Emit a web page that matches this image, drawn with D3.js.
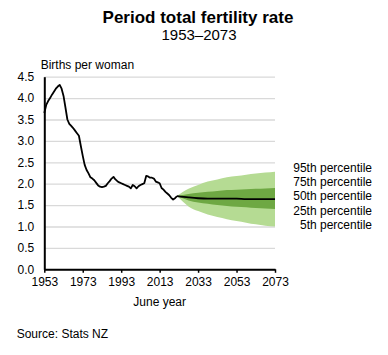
<!DOCTYPE html>
<html>
<head>
<meta charset="utf-8">
<script src="https://cdn.jsdelivr.net/npm/d3@7"></script>
<style>
  html, body { margin: 0; padding: 0; background: #fff; }
  svg { display: block; font-family: "Liberation Sans", Arial, Helvetica, sans-serif; }
</style>
</head>
<body>
<svg id="chart" width="388" height="355"></svg>
<script>
// ---- Data ----
const histYears = [1953,1954,1955,1956,1957,1958,1959,1960,1961,1962,1963,1964,1965,1966,1967,1968,1969,1970,1971,1972,1973,1974,1975,1976,1977,1978,1979,1980,1981,1982,1983,1984,1985,1986,1987,1988,1989,1990,1991,1992,1993,1994,1995,1996,1997,1998,1999,2000,2001,2002,2003,2004,2005,2006,2007,2008,2009,2010,2011,2012,2013,2014,2015,2016,2017,2018,2019,2020,2021,2022];
const histTFR = [3.65,3.84,3.93,4.00,4.08,4.15,4.22,4.27,4.31,4.22,4.05,3.78,3.50,3.40,3.35,3.30,3.24,3.18,3.12,2.88,2.65,2.44,2.32,2.24,2.15,2.12,2.08,2.02,1.96,1.93,1.92,1.93,1.95,2.01,2.06,2.12,2.16,2.10,2.06,2.03,2.01,1.99,1.97,1.95,1.93,1.89,1.97,1.94,1.89,1.94,1.97,1.99,2.01,2.18,2.17,2.14,2.14,2.12,2.05,2.03,2.01,1.90,1.86,1.81,1.77,1.73,1.67,1.63,1.66,1.71];

const projYears = [2022,2028,2033,2038,2043,2048,2053,2058,2063,2068,2073];
const p95 = [1.71,1.88,1.97,2.05,2.10,2.15,2.18,2.21,2.24,2.26,2.28];
const p75 = [1.71,1.76,1.79,1.81,1.83,1.85,1.86,1.87,1.88,1.89,1.90];
const p50 = [1.71,1.68,1.66,1.65,1.65,1.65,1.65,1.64,1.64,1.64,1.64];
const p25 = [1.71,1.61,1.56,1.53,1.50,1.48,1.46,1.45,1.43,1.42,1.41];
const p05 = [1.71,1.47,1.36,1.28,1.22,1.17,1.13,1.09,1.05,1.02,1.00];

const yTicks = [0,0.5,1,1.5,2,2.5,3,3.5,4,4.5];
const xTicks = [1953,1973,1993,2013,2033,2053,2073];
const legendLabels = ["95th percentile","75th percentile","50th percentile","25th percentile","5th percentile"];

const title = "Period total fertility rate";
const subtitle = "1953\u20132073";
const yTitle = "Births per woman";
const xTitle = "June year";
const source = "Source: Stats NZ";

// ---- Chart ----
const svg = d3.select("#chart");
const x = d3.scaleLinear().domain([1953, 2073]).range([44.3, 275]);
const y = d3.scaleLinear().domain([0, 4.5]).range([269.3, 76.7]);

// gridlines
svg.append("g")
  .attr("transform", "translate(44.3,0)")
  .call(d3.axisLeft(y).tickValues(yTicks).tickSize(-(275 - 44.3)).tickFormat(""))
  .call(g => g.select(".domain").remove())
  .call(g => g.selectAll("line").attr("stroke", "#d9d9d9").attr("stroke-width", 1.3));

// fan
const proj = projYears.map((yr, i) => ({yr, p95: p95[i], p75: p75[i], p50: p50[i], p25: p25[i], p05: p05[i]}));
const curve = d3.curveMonotoneX;
svg.append("path").datum(proj)
  .attr("fill", "#b5db93")
  .attr("d", d3.area().curve(curve).x(d => x(d.yr)).y0(d => y(d.p05)).y1(d => y(d.p95)));
svg.append("path").datum(proj)
  .attr("fill", "#6ea843")
  .attr("d", d3.area().curve(curve).x(d => x(d.yr)).y0(d => y(d.p25)).y1(d => y(d.p75)));

// historical line
const hist = histYears.map((yr, i) => ({yr, v: histTFR[i]}));
svg.append("path").datum(hist)
  .attr("fill", "none").attr("stroke", "#000").attr("stroke-width", 1.8)
  .attr("stroke-linejoin", "round")
  .attr("d", d3.line().x(d => x(d.yr)).y(d => y(d.v)));

// median projection line
svg.append("path").datum(proj)
  .attr("fill", "none").attr("stroke", "#000").attr("stroke-width", 1.8)
  .attr("d", d3.line().curve(curve).x(d => x(d.yr)).y(d => y(d.p50)));

// y axis
const yAxis = svg.append("g")
  .attr("transform", "translate(44.3,0)")
  .call(d3.axisLeft(y).tickValues(yTicks).tickSize(0).tickPadding(10).tickFormat(d3.format(".1f")));
yAxis.select(".domain").attr("stroke", "#000").attr("stroke-width", 2);
yAxis.selectAll("text").attr("font-size", 12).attr("fill", "#000").attr("font-family", null);

// x axis
const xAxis = svg.append("g")
  .attr("transform", "translate(0,269.3)")
  .call(d3.axisBottom(x).tickValues(xTicks).tickSize(3.5).tickSizeOuter(0).tickPadding(5).tickFormat(d3.format("d")));
xAxis.select(".domain").attr("stroke", "#000").attr("stroke-width", 2);
xAxis.selectAll("line").attr("stroke", "#000").attr("stroke-width", 1.5);
xAxis.selectAll("text").attr("font-size", 12).attr("fill", "#000").attr("font-family", null);

// titles
svg.append("text").attr("x", 198).attr("y", 22.5).attr("text-anchor", "middle")
  .attr("font-size", 17).attr("font-weight", "bold").text(title);
svg.append("text").attr("x", 199).attr("y", 39.5).attr("text-anchor", "middle")
  .attr("font-size", 15).text(subtitle);
svg.append("text").attr("x", 40.7).attr("y", 69).attr("font-size", 12).text(yTitle);
svg.append("text").attr("x", (x(1953) + x(2073)) / 2).attr("y", 306).attr("text-anchor", "middle")
  .attr("font-size", 12).text(xTitle);
svg.append("text").attr("x", 16.7).attr("y", 338).attr("font-size", 12).text(source);

// legend
svg.append("g").selectAll("text").data(legendLabels).join("text")
  .attr("x", 372).attr("y", (d, i) => 171.7 + i * 14.3)
  .attr("text-anchor", "end").attr("font-size", 12).text(d => d);
</script>
</body>
</html>
